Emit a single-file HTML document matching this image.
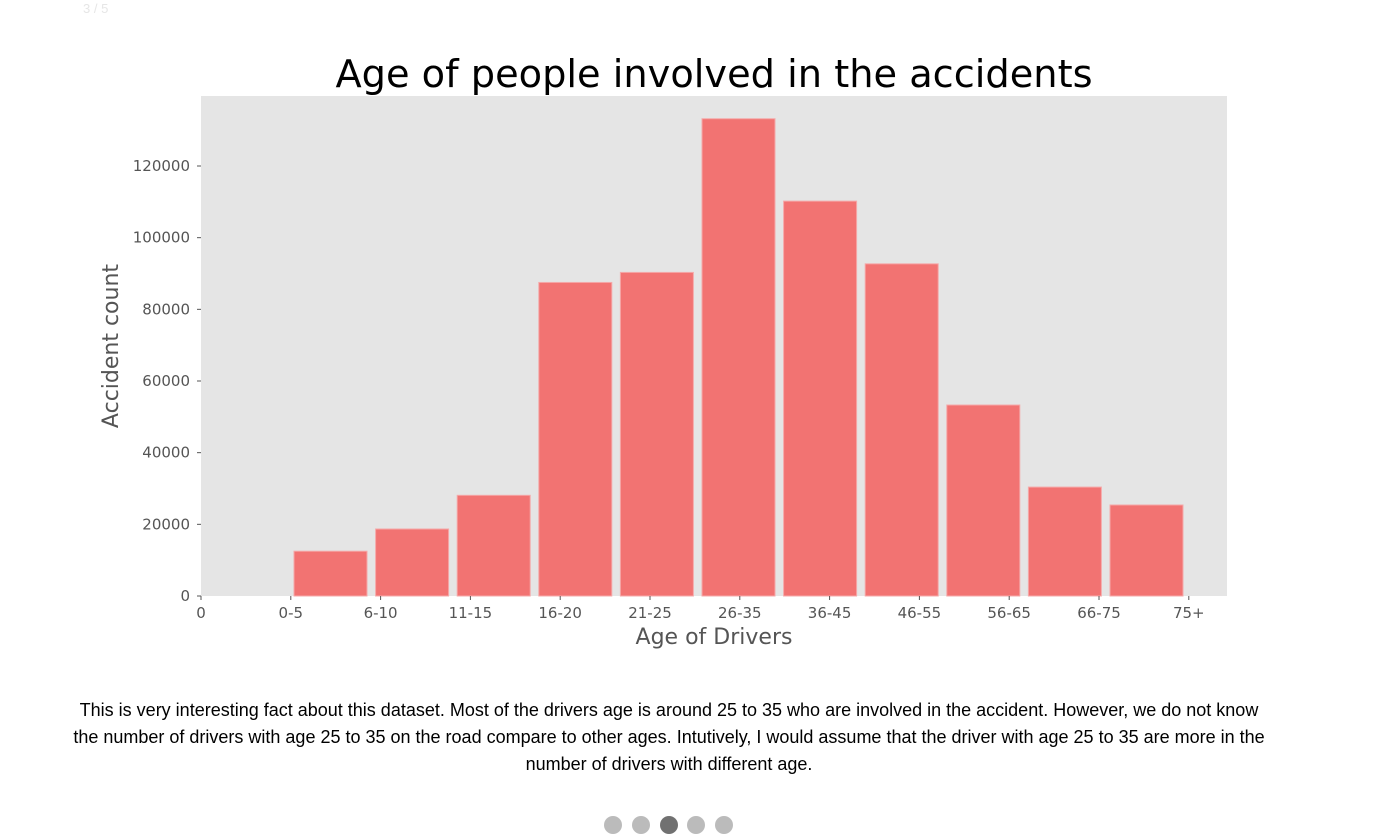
<!DOCTYPE html>
<html><head><meta charset="utf-8"><style>
body{margin:0;width:1375px;height:836px;background:#fff;overflow:hidden;position:relative;font-family:"DejaVu Sans","Liberation Sans",sans-serif}
#counter{position:absolute;left:83px;top:1px;font-size:13px;color:#e6e6e6;font-family:"Liberation Sans",sans-serif}
#caption{position:absolute;left:0;width:1338px;top:697px;text-align:center;font-family:"Liberation Sans",sans-serif;font-size:18px;line-height:27px;color:#000;white-space:nowrap}
.dot{position:absolute;top:816px;width:18px;height:18px;border-radius:50%;background:#bbb}
</style></head><body>
<div id="counter">3 / 5</div>
<svg id="chart" width="1375" height="700" style="position:absolute;left:0;top:0"></svg>
<div id="caption">This is very interesting fact about this dataset. Most of the drivers age is around 25 to 35 who are involved in the accident. However, we do not know<br>the number of drivers with age 25 to 35 on the road compare to other ages. Intutively, I would assume that the driver with age 25 to 35 are more in the<br>number of drivers with different age.</div>
<div class="dot" style="left:604px"></div>
<div class="dot" style="left:632px"></div>
<div class="dot" style="left:660px;background:#717171"></div>
<div class="dot" style="left:687px"></div>
<div class="dot" style="left:715px"></div>
<script>
const categories=["0-5","6-10","11-15","16-20","21-25","26-35","36-45","46-55","56-65","66-75","75+"];
const values=[12500,18700,28100,87500,90300,133200,110200,92700,53300,30400,25400];
const yTicks=[0,20000,40000,60000,80000,100000,120000];
const xTickLabels=["0","0-5","6-10","11-15","16-20","21-25","26-35","36-45","46-55","56-65","66-75","75+"];
const NS="http://www.w3.org/2000/svg";
const svg=document.getElementById('chart');
const L=201,R=1227,T=96,B=596;
const y=v=>B-v*(430/120000);
const xBar=i=>294+81.6*i;
const xTick=i=>201+89.8*i;
function el(t,a){const e=document.createElementNS(NS,t);for(const k in a)e.setAttribute(k,a[k]);svg.appendChild(e);return e;}
const bg=el('rect',{x:L,y:T,width:R-L,height:B-T,fill:'#e5e5e5'});


values.forEach((v,i)=>{
 const r=el('rect',{x:xBar(i),y:y(v),width:73,height:B-y(v),fill:'#f27372',stroke:'#f5a9a9','stroke-width':1});
 
 
});
yTicks.forEach(v=>{
 el('line',{x1:L-4,x2:L,y1:y(v),y2:y(v),stroke:'#555'});
 const t=el('text',{x:L-11,y:y(v)+5,'text-anchor':'end','font-size':15,fill:'#555'});
 t.textContent=v;
 
 
});
xTickLabels.forEach((s,i)=>{
 el('line',{x1:xTick(i),x2:xTick(i),y1:B,y2:B+4,stroke:'#555'});
 const t=el('text',{x:xTick(i),y:B+22,'text-anchor':'middle','font-size':15,fill:'#555'});
 t.textContent=s;
 
 
});
const ti=el('text',{x:714,y:87,'text-anchor':'middle','font-size':38.3,fill:'#000'});
ti.textContent='Age of people involved in the accidents';


const xt=el('text',{x:714,y:644,'text-anchor':'middle','font-size':22,fill:'#555'});
xt.textContent='Age of Drivers';


const yt=el('text',{x:118,y:346,'text-anchor':'middle','font-size':22,fill:'#555',transform:'rotate(-90 118 346)'});
yt.textContent='Accident count';


</script>
</body></html>
